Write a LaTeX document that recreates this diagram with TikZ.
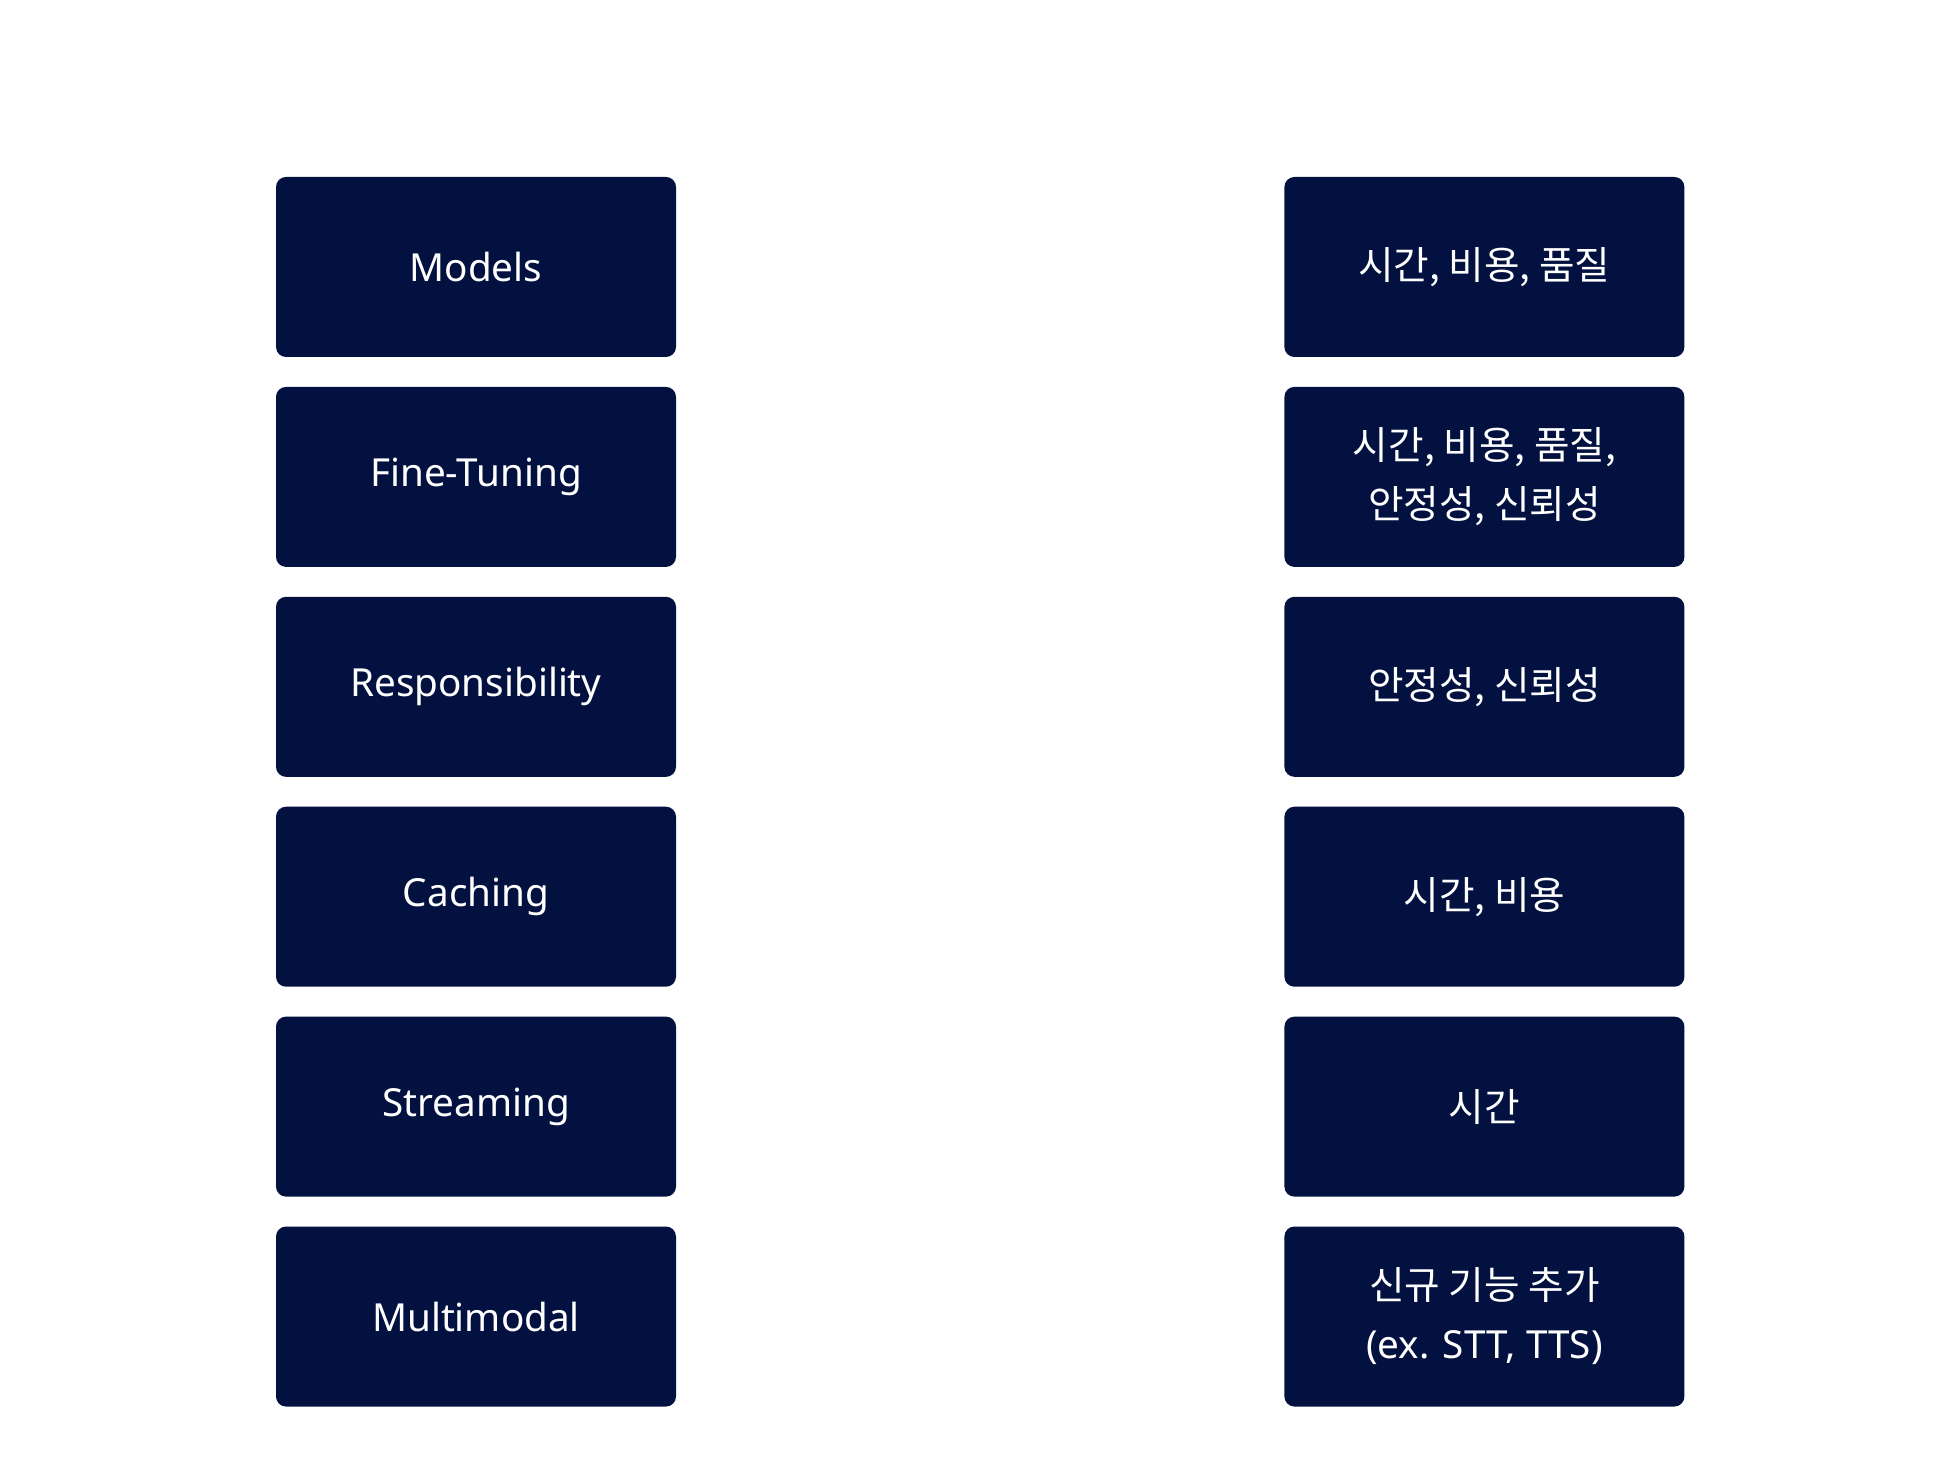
\documentclass[tikz,border=0pt]{standalone}
\usepackage{fontspec}
\setmainfont{Noto Sans}
\newfontfamily\kr{Noto Sans CJK KR}
\usetikzlibrary{positioning}
\definecolor{navy}{RGB}{2,17,64}

\begin{document}
\begin{tikzpicture}[node distance=0.285cm and 6.07cm]
	\tikzstyle{every node}=[fill=navy,draw=none,text=white,rounded corners=0.1cm,minimum width=4cm,minimum height=1.8cm,align=center,font=\fontsize{11}{16.8}\selectfont]
	\useasboundingbox (0,0) rectangle (19.6,14.8);

	\node (M) at (4.76,12.13) {Models};
	\node (F) [below = of M] {Fine-Tuning};
	\node (R) [below = of F] {Responsibility};
	\node (C) [below = of R] {Caching};
	\node (S) [below = of C] {Streaming};
	\node (X) [below = of S] {Multimodal};

	\node (Mq) [right = of M] {\kr 시간, 비용, 품질};
	\node (Fq) [right = of F] {\kr 시간, 비용, 품질,\\\kr 안정성, 신뢰성};
	\node (Rq) [right = of R] {\kr 안정성, 신뢰성};
	\node (Cq) [right = of C] {\kr 시간, 비용};
	\node (Sq) [right = of S] {\kr 시간};
	\node (Xq) [right = of X] {\kr 신규 기능 추가\\(ex. STT, TTS)};
\end{tikzpicture}
\end{document}
